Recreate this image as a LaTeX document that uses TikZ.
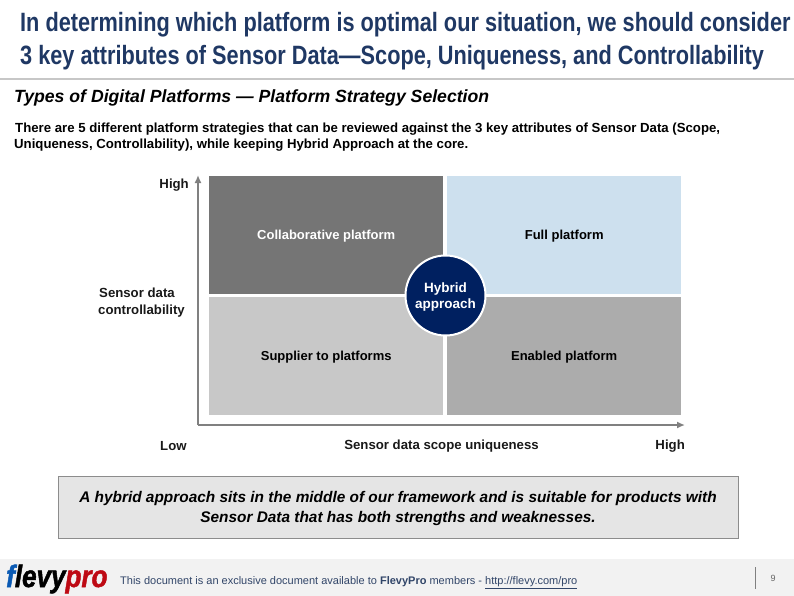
\documentclass[tikz,border=0pt]{standalone}
\usepackage{fontspec}
\setmainfont{Liberation Sans}
\newfontfamily\narrowfont[FakeStretch=0.82]{Liberation Sans}
\newfontfamily\logofont[FakeStretch=0.84,FakeBold=1.5]{Liberation Sans}
\definecolor{navyblue}{RGB}{31,56,100}
\definecolor{hybridnavy}{RGB}{0,32,96}
\definecolor{quaddark}{RGB}{117,117,117}
\definecolor{quadlight}{RGB}{205,224,238}
\definecolor{quadpale}{RGB}{200,200,200}
\definecolor{quadmid}{RGB}{172,172,172}
\definecolor{axisgray}{RGB}{128,128,128}
\definecolor{footgray}{RGB}{242,242,242}
\definecolor{footblue}{RGB}{50,70,105}
\definecolor{logoblue}{RGB}{10,90,180}
\definecolor{logored}{RGB}{190,10,20}
\usetikzlibrary{positioning,arrows.meta}

\begin{document}
\begin{tikzpicture}[
      x=1pt, y=-1pt,
      node distance=2.6pt and 3.6pt,
      quad/.style={minimum width=234pt, minimum height=118pt, inner sep=0pt,
                   align=center, text height=9.5pt, text depth=0pt,
                   font=\fontsize{13}{15}\selectfont\bfseries},
      axislabel/.style={inner sep=0pt, align=center, text=black!90,
                        font=\fontsize{13.2}{17}\selectfont\bfseries},
      arr/.style={-{Latex[length=8pt,width=7pt]}, line width=1.6pt, color=axisgray}
  ]
  \useasboundingbox (0,0) rectangle (794,596);
  %% ---- Header
  \node[anchor=west, inner sep=0pt, text=navyblue, align=left,
        font=\fontsize{26.5}{33}\narrowfont\bfseries] (title) at (20,41.5)
        {In determining which platform is optimal our situation, we should consider\\
         3 key attributes of Sensor Data—Scope, Uniqueness, and Controllability};
  \coordinate (ruleL) at (0,79);
  \coordinate (ruleR) at (794,79);
  \draw[line width=1.5pt, black!22] (ruleL) -- (ruleR);
  \node[anchor=west, inner sep=0pt, font=\fontsize{17.65}{20}\selectfont\bfseries\itshape] (sub) at (14,98)
        {Types of Digital Platforms — Platform Strategy Selection};
  \node[anchor=north west, inner sep=0pt, align=left, font=\fontsize{13.2}{16}\selectfont\bfseries] (intro) at (14,122.5)
        {\hspace*{1pt}There are 5 different platform strategies that can be reviewed against the 3 key attributes of Sensor Data (Scope,\\
         Uniqueness, Controllability), while keeping Hybrid Approach at the core.};

  %% ---- Quadrants
  \node[quad, fill=quaddark, text=white, anchor=north west] (collab) at (209,176) {Collaborative platform};
  \node[quad, fill=quadlight, right=of collab]              (full)   {Full platform};
  \node[quad, fill=quadpale, below=of collab]               (supp)   {Supplier to platforms};
  \node[quad, fill=quadmid, below=of full]                  (enab)   {Enabled platform};
  \node[circle, fill=hybridnavy, draw=white, line width=2pt, minimum size=80pt, inner sep=0pt,
        text=white, align=center, text depth=-2pt, font=\fontsize{13.5}{16.5}\selectfont\bfseries] (hybrid) at (445.5,295.5) {Hybrid\\approach};

  %% ---- Axes
  \coordinate (origin) at (198,425);
  \coordinate (ytip)   at (198,175);
  \coordinate (xtip)   at (685,425);
  \draw[arr] (origin) -- (ytip);
  \draw[arr] (origin) -- (xtip);
  \node[axislabel, anchor=east] (yhigh) at (189,185) {High};
  \node[axislabel, align=left, anchor=west] (ylab) at (98,303) {\hspace*{1pt}Sensor data\\ controllability};
  \node[axislabel, anchor=west] (xlow)  at (160,446) {Low};
  \node[axislabel]              (xlab)  at (441.5,446) {Sensor data scope uniqueness};
  \node[axislabel, anchor=east] (xhigh) at (685,446) {High};

  %% ---- Takeaway
  \node[draw=black!45, fill=black!10, line width=0.8pt, minimum width=680pt, minimum height=62pt, inner sep=0pt,
        align=center, text depth=0pt, font=\fontsize{15.4}{20.5}\selectfont\bfseries\itshape] (note) at (398,507)
        {A hybrid approach sits in the middle of our framework and is suitable for products with\\
         Sensor Data that has both strengths and weaknesses.};

  %% ---- Footer
  \fill[footgray] (0,559) rectangle (794,596);
  \node[anchor=west, inner sep=0pt, font=\fontsize{31}{31}\logofont\bfseries\itshape] (logo) at (6,579)
        {\textcolor{logoblue}{f}\textcolor{black}{levy}\textcolor{logored}{pro}};
  \node[anchor=west, inner sep=0pt, text=footblue, font=\fontsize{11}{12}\selectfont] (foot) at (120,583)
        {This document is an exclusive document available to \textbf{FlevyPro} members - \underline{http://flevy.com/pro}};
  \coordinate (barT) at (755,567);
  \coordinate (barB) at (755,589);
  \draw[line width=0.7pt, black!50] (barT) -- (barB);
  \node[inner sep=0pt, text=black!60, font=\fontsize{9}{10}\selectfont] (page) at (773,578) {9};
\end{tikzpicture}
\end{document}
